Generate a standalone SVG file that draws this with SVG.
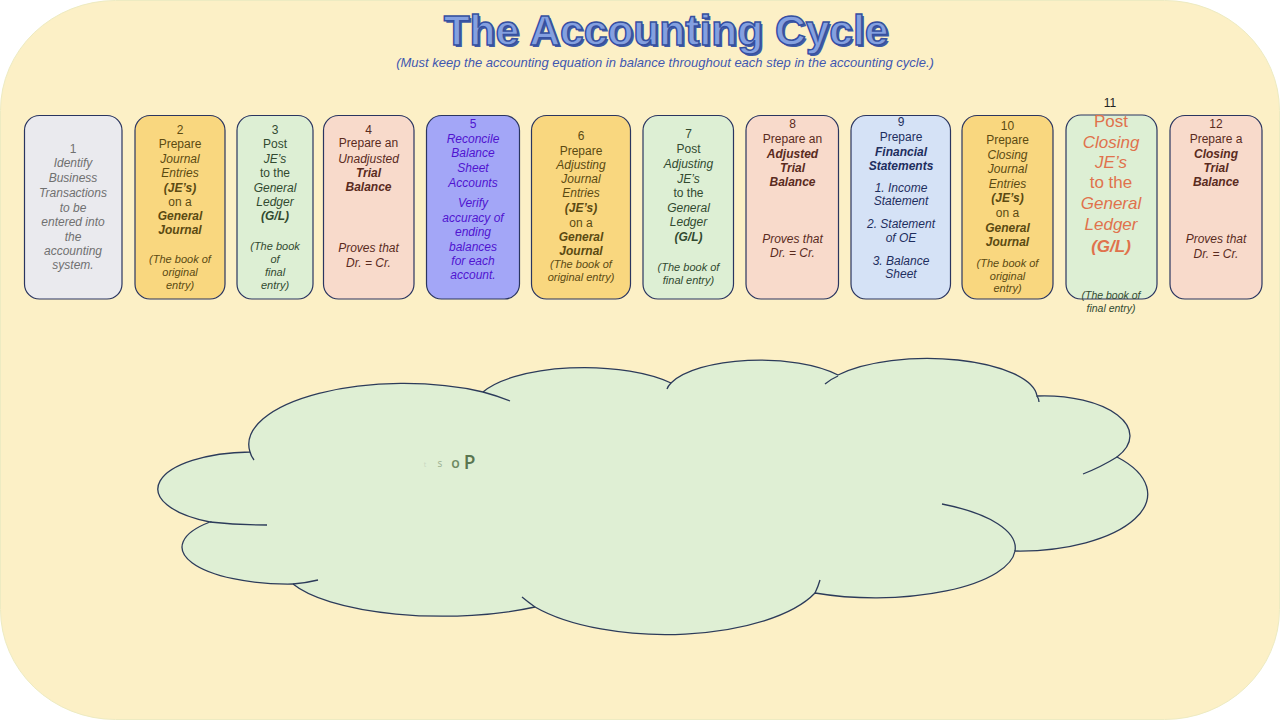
<svg xmlns="http://www.w3.org/2000/svg" width="1280" height="720" viewBox="0 0 1280 720">
<style>
text{font-family:"Liberation Sans",Arial,sans-serif;font-size:12px;text-anchor:middle}
.i{font-style:italic}
.b{font-weight:bold}
.s{font-size:11px}
.box{stroke:#2A3560;stroke-width:1.2}
.c1{fill:#707070}
.c2{fill:#5B4A12}
.c3{fill:#324A30}
.c4{fill:#5A2B1E}
.c5{fill:#5014D0}
.c9{fill:#1E2E5E}
.c11{fill:#E0724C;font-size:17px}
.tail{fill:none;stroke:#2C3B5A;stroke-width:1.3}
.ttl{font-size:42.5px;font-weight:bold}
.sub{font-size:13px;font-style:italic;fill:#3F57B0}
.fin{font-size:10.5px;font-style:italic;fill:#324A30}
.cl{font-family:"Open Sans","Liberation Sans",sans-serif}
</style>
<rect x="0" y="0" width="1280" height="720" fill="#FFFFFF"/>
<rect x="0.5" y="0.5" width="1279" height="719" rx="115" ry="110" fill="#FCF0C6" stroke="#EDEBC2" stroke-width="1"/>

<g id="title">
<text class="ttl" x="668" y="47" fill="#3F5AA6">The Accounting Cycle</text>
<text class="ttl" x="666" y="45" fill="#84A0E0" stroke="#3550A0" stroke-width="1.5">The Accounting Cycle</text>
<text class="sub" x="665" y="67">(Must keep the accounting equation in balance throughout each step in the accounting cycle.)</text>
</g>

<g id="step1">
<rect class="box" x="24.5" y="115.5" width="97.5" height="183.5" rx="15" fill="#EAEAEE"/>
<text class="c1" x="73" y="153">1</text>
<text class="c1 i" x="73" y="167">Identify</text>
<text class="c1 i" x="73" y="182">Business</text>
<text class="c1 i" x="73" y="197">Transactions</text>
<text class="c1 i" x="73" y="212">to be</text>
<text class="c1 i" x="73" y="226">entered into</text>
<text class="c1 i" x="73" y="241">the</text>
<text class="c1 i" x="73" y="255">accounting</text>
<text class="c1 i" x="73" y="269">system.</text>
</g>

<g id="step2">
<rect class="box" x="135" y="115.5" width="90" height="183.5" rx="15" fill="#F9D77F"/>
<text class="c2" x="180" y="134">2</text>
<text class="c2" x="180" y="148">Prepare</text>
<text class="c2 i" x="180" y="163">Journal</text>
<text class="c2 i" x="180" y="177">Entries</text>
<text class="c2 i b" x="180" y="192">(JE’s)</text>
<text class="c2" x="180" y="206">on a</text>
<text class="c2 i b" x="180" y="220">General</text>
<text class="c2 i b" x="180" y="234">Journal</text>
<text class="c2 i s" x="180" y="263">(The book of</text>
<text class="c2 i s" x="180" y="276">original</text>
<text class="c2 i s" x="180" y="289">entry)</text>
</g>

<g id="step3">
<rect class="box" x="237" y="115.5" width="76" height="183.5" rx="15" fill="#DDEFD4"/>
<text class="c3" x="275" y="134">3</text>
<text class="c3" x="275" y="148">Post</text>
<text class="c3 i" x="275" y="163">JE’s</text>
<text class="c3" x="275" y="177">to the</text>
<text class="c3 i" x="275" y="192">General</text>
<text class="c3 i" x="275" y="206">Ledger</text>
<text class="c3 i b" x="275" y="220">(G/L)</text>
<text class="c3 i s" x="275" y="250">(The book</text>
<text class="c3 i s" x="275" y="263">of</text>
<text class="c3 i s" x="275" y="276">final</text>
<text class="c3 i s" x="275" y="289">entry)</text>
</g>

<g id="step4">
<rect class="box" x="323.5" y="115.5" width="90.5" height="183.5" rx="15" fill="#F8DACB"/>
<text class="c4" x="368.5" y="134">4</text>
<text class="c4" x="368.5" y="147">Prepare an</text>
<text class="c4 i" x="368.5" y="163">Unadjusted</text>
<text class="c4 i b" x="368.5" y="177">Trial</text>
<text class="c4 i b" x="368.5" y="191">Balance</text>
<text class="c4 i" x="368.5" y="252">Proves that</text>
<text class="c4 i" x="368.5" y="267">Dr. = Cr.</text>
</g>

<g id="step5">
<rect class="box" x="426.5" y="115.5" width="93" height="183.5" rx="15" fill="#A3A6F7"/>
<text class="c5" x="473" y="128">5</text>
<text class="c5 i" x="473" y="143">Reconcile</text>
<text class="c5 i" x="473" y="157">Balance</text>
<text class="c5 i" x="473" y="172">Sheet</text>
<text class="c5 i" x="473" y="187">Accounts</text>
<text class="c5 i" x="473" y="207">Verify</text>
<text class="c5 i" x="473" y="222">accuracy of</text>
<text class="c5 i" x="473" y="236">ending</text>
<text class="c5 i" x="473" y="251">balances</text>
<text class="c5 i" x="473" y="265">for each</text>
<text class="c5 i" x="473" y="279">account.</text>
</g>

<g id="step6">
<rect class="box" x="531.5" y="115.5" width="99" height="183.5" rx="15" fill="#F9D77F"/>
<text class="c2" x="581" y="140">6</text>
<text class="c2" x="581" y="155">Prepare</text>
<text class="c2 i" x="581" y="169">Adjusting</text>
<text class="c2 i" x="581" y="183">Journal</text>
<text class="c2 i" x="581" y="197">Entries</text>
<text class="c2 i b" x="581" y="212">(JE’s)</text>
<text class="c2" x="581" y="227">on a</text>
<text class="c2 i b" x="581" y="241">General</text>
<text class="c2 i b" x="581" y="255">Journal</text>
<text class="c2 i s" x="581" y="268">(The book of</text>
<text class="c2 i s" x="581" y="281">original entry)</text>
</g>

<g id="step7">
<rect class="box" x="643" y="115.5" width="90.5" height="183.5" rx="15" fill="#DDEFD4"/>
<text class="c3" x="688.5" y="138">7</text>
<text class="c3" x="688.5" y="153">Post</text>
<text class="c3 i" x="688.5" y="168">Adjusting</text>
<text class="c3 i" x="688.5" y="183">JE’s</text>
<text class="c3" x="688.5" y="197">to the</text>
<text class="c3 i" x="688.5" y="212">General</text>
<text class="c3 i" x="688.5" y="226">Ledger</text>
<text class="c3 i b" x="688.5" y="241">(G/L)</text>
<text class="c3 i s" x="688.5" y="271">(The book of</text>
<text class="c3 i s" x="688.5" y="284">final entry)</text>
</g>

<g id="step8">
<rect class="box" x="746" y="115.5" width="92.5" height="183.5" rx="15" fill="#F8DACB"/>
<text class="c4" x="792.5" y="128">8</text>
<text class="c4" x="792.5" y="143">Prepare an</text>
<text class="c4 i b" x="792.5" y="158">Adjusted</text>
<text class="c4 i b" x="792.5" y="172">Trial</text>
<text class="c4 i b" x="792.5" y="186">Balance</text>
<text class="c4 i" x="792.5" y="243">Proves that</text>
<text class="c4 i" x="792.5" y="257">Dr. = Cr.</text>
</g>

<g id="step9">
<rect class="box" x="851" y="115.5" width="99.5" height="183.5" rx="15" fill="#D5E2F6"/>
<text class="c9" x="901" y="126">9</text>
<text class="c9" x="901" y="141">Prepare</text>
<text class="c9 i b" x="901" y="156">Financial</text>
<text class="c9 i b" x="901" y="170">Statements</text>
<text class="c9 i" x="901" y="192">1. Income</text>
<text class="c9 i" x="901" y="205">Statement</text>
<text class="c9 i" x="901" y="228">2. Statement</text>
<text class="c9 i" x="901" y="242">of OE</text>
<text class="c9 i" x="901" y="265">3. Balance</text>
<text class="c9 i" x="901" y="278">Sheet</text>
</g>

<g id="step10">
<rect class="box" x="962" y="115.5" width="91" height="183.5" rx="15" fill="#F9D77F"/>
<text class="c2" x="1007.5" y="130">10</text>
<text class="c2" x="1007.5" y="144">Prepare</text>
<text class="c2 i" x="1007.5" y="159">Closing</text>
<text class="c2 i" x="1007.5" y="173">Journal</text>
<text class="c2 i" x="1007.5" y="188">Entries</text>
<text class="c2 i b" x="1007.5" y="202">(JE’s)</text>
<text class="c2" x="1007.5" y="217">on a</text>
<text class="c2 i b" x="1007.5" y="232">General</text>
<text class="c2 i b" x="1007.5" y="246">Journal</text>
<text class="c2 i s" x="1007.5" y="267">(The book of</text>
<text class="c2 i s" x="1007.5" y="280">original</text>
<text class="c2 i s" x="1007.5" y="292">entry)</text>
</g>

<g id="step11">
<rect class="box" x="1066" y="115" width="91" height="184" rx="15" fill="#DDEFD4"/>
<text x="1110" y="107" fill="#222222">11</text>
<text class="c11" x="1111" y="127">Post</text>
<text class="c11 i" x="1111" y="148">Closing</text>
<text class="c11 i" x="1111" y="168">JE’s</text>
<text class="c11" x="1111" y="188">to the</text>
<text class="c11 i" x="1111" y="209">General</text>
<text class="c11 i" x="1111" y="230">Ledger</text>
<text class="c11 i b" x="1111" y="252">(G/L)</text>
<text class="fin" x="1111" y="299">(The book of</text>
<text class="fin" x="1111" y="312">final entry)</text>
</g>

<g id="step12">
<rect class="box" x="1170" y="115.5" width="92" height="183.5" rx="15" fill="#F8DACB"/>
<text class="c4" x="1216" y="128">12</text>
<text class="c4" x="1216" y="143">Prepare a</text>
<text class="c4 i b" x="1216" y="158">Closing</text>
<text class="c4 i b" x="1216" y="172">Trial</text>
<text class="c4 i b" x="1216" y="186">Balance</text>
<text class="c4 i" x="1216" y="243">Proves that</text>
<text class="c4 i" x="1216" y="258">Dr. = Cr.</text>
</g>

<g id="cloud">
<path d="M250,452 A155,61 0 0,1 483,392 A110,40 0 0,1 671,383 A95,35 0 0,1 838,375 A110,40 0 0,1 1037,396 A86,40 0 0,1 1117,457 A128,57 0 0,1 1015,551 A140,50 0 0,1 815,593 A160,65 0 0,1 535,607 A160,50 0 0,1 293,584 A106,37 0 0,1 210,522 A95,37 0 0,1 250,452 Z" fill="#DFEFD4" stroke="#2C3B5A" stroke-width="1.3"/>
<path class="tail" d="M483,392 Q498,396 510,401"/>
<path class="tail" d="M671,383 Q668,386 667,389"/>
<path class="tail" d="M838,376 Q831,379 825,384"/>
<path class="tail" d="M1037,396 Q1039,399 1039,402"/>
<path class="tail" d="M1117,457 Q1101,467 1083,474"/>
<path class="tail" d="M1015,551 A140,50 0 0,0 942,504"/>
<path class="tail" d="M815,593 Q818,587 820,580"/>
<path class="tail" d="M535,607 Q528,602 522,597"/>
<path class="tail" d="M293,584 Q306,583 318,580"/>
<path class="tail" d="M210,522 Q238,525 267,525"/>
<path class="tail" d="M250,452 Q251,456 254,460"/>
<text class="cl" x="425" y="467" style="font-size:7px" fill="#CAD8C2">t</text>
<text class="cl" x="440" y="467" style="font-size:10px" fill="#9BAF90">s</text>
<text class="cl" x="455.5" y="468" style="font-size:14px;font-weight:600" fill="#6E8A62">o</text>
<text class="cl" x="469.5" y="469" style="font-size:19px;font-weight:600" fill="#5A7650">P</text>
</g>
</svg>
